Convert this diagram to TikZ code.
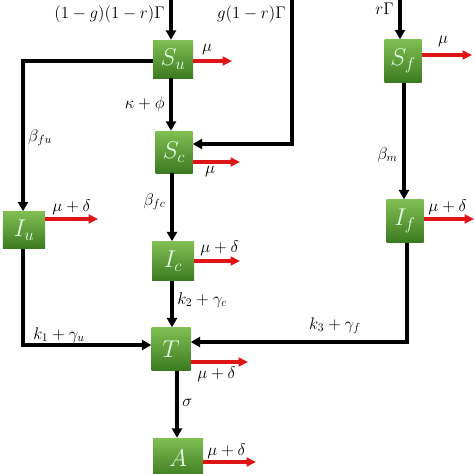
\documentclass[tikz,border=0pt]{standalone}
\usetikzlibrary{arrows.meta,calc}
\definecolor{gtop}{HTML}{80BF52}
\definecolor{gbot}{HTML}{3C7A22}
\definecolor{rarr}{HTML}{E01414}
\begin{document}
\begin{tikzpicture}[x=0.03cm,y=-0.03cm,
 box/.style={rectangle, inner sep=0pt, top color=gtop, bottom color=gbot, text=white!90!green, font=\fontsize{21}{23}\selectfont},
 flow/.style={line width=2.6pt, draw=black, -{Triangle[length=8pt,width=8.5pt]}},
 loss/.style={line width=2.6pt, draw=rarr, -{Triangle[length=8pt,width=7.5pt]}},
 lab/.style={font=\fontsize{14}{16}\selectfont, inner sep=1pt}]
\useasboundingbox (0,0) rectangle (474,474);
\fill[white] (0,0) rectangle (474,474);
% boxes
\node[box, minimum width=1.2cm, minimum height=1.14cm] (Su) at (173,59) {$S_u$};
\node[box, minimum width=1.11cm, minimum height=1.26cm] (Sc) at (174,152) {$S_c$};
\node[box, minimum width=1.11cm, minimum height=1.29cm] (Sf) at (403,61) {$S_f$};
\node[box, minimum width=1.11cm, minimum height=1.29cm] (If) at (405,221) {$I_f$};
\node[box, minimum width=1.26cm, minimum height=1.11cm] (Iu) at (24,230) {$I_u$};
\node[box, minimum width=1.26cm, minimum height=1.17cm] (Ic) at (173,261) {$I_c$};
\node[box, minimum width=1.17cm, minimum height=1.29cm] (T) at (171,349) {$T$};
\node[box, minimum width=1.5cm, minimum height=1.2cm] (A) at (178,458) {$A$};
% free ends
\coordinate (inSu) at (171,0);
\coordinate (inSc) at (292,0);
\coordinate (inSf) at (400,0);
\coordinate (cSc) at (292,144);
\coordinate (cSu) at (23,61);
\coordinate (cIu) at (23,345);
\coordinate (cIf) at (407,342);
% black flows
\draw[flow] (inSu) -- (inSu |- Su.north);
\draw[flow] (171,0 |- Su.south) -- (171,0 |- Sc.north);
\draw[flow] (cSu -| Su.west) -- (cSu) -- (cSu |- Iu.north);
\draw[flow] (inSc) -- (cSc) -- (cSc -| Sc.east);
\draw[flow] (inSf) -- (inSf |- Sf.north);
\draw[flow] (404,0 |- Sf.south) -- (404,0 |- If.north);
\draw[flow] (172,0 |- Sc.south) -- (172,0 |- Ic.north);
\draw[flow] (172,0 |- Ic.south) -- (172,0 |- T.north);
\draw[flow] (cIu |- Iu.south) -- (cIu) -- (cIu -| T.west);
\draw[flow] (cIf |- If.south) -- (cIf) -- (cIf -| T.east);
\draw[flow] (177,0 |- T.south) -- (177,0 |- A.north);
% labels of flows
\node[lab, anchor=east] (l1) at (166,14) {$(1-g)(1-r)\Gamma$};
\node[lab, anchor=east] (l2) at (287,14) {$g(1-r)\Gamma$};
\node[lab, anchor=east] (l3) at (395,9) {$r\Gamma$};
\node[lab, anchor=east] (l4) at (166,104) {$\kappa+\phi$};
\node[lab] (l5) at (40,138) {$\beta_{fu}$};
\node[lab, anchor=east] (l6) at (167,202) {$\beta_{fc}$};
\node[lab, anchor=east] (l7) at (399,155) {$\beta_m$};
\node[lab, anchor=west] (l8) at (32,335) {$k_1+\gamma_u$};
\node[lab, anchor=west] (l9) at (176,300) {$k_2+\gamma_c$};
\node[lab] (l10) at (335,326) {$k_3+\gamma_f$};
\node[lab, anchor=west] (l11) at (181,403) {$\sigma$};
% loss arrows
\coordinate (oSu) at (232,61);
\coordinate (oSc) at (240,162);
\coordinate (oSf) at (472,55);
\coordinate (oIf) at (474,219);
\coordinate (oIu) at (98,219);
\coordinate (oIc) at (240,261);
\coordinate (oT) at (248,362);
\coordinate (oA) at (256,462);
\draw[loss] (oSu -| Su.east) -- (oSu);
\draw[loss] (oSc -| Sc.east) -- (oSc);
\draw[loss] (oSf -| Sf.east) -- (oSf);
\draw[loss] (oIf -| If.east) -- (oIf);
\draw[loss] (oIu -| Iu.east) -- (oIu);
\draw[loss] (oIc -| Ic.east) -- (oIc);
\draw[loss] (oT -| T.east) -- (oT);
\draw[loss] (oA -| A.east) -- (oA);
\node[lab] (m1) at (207,50) {$\mu$};
\node[lab] (m2) at (210,172) {$\mu$};
\node[lab] (m3) at (443,42) {$\mu$};
\node[lab, anchor=west] (m4) at (427,207) {$\mu+\delta$};
\node[lab, anchor=west] (m5) at (51,207) {$\mu+\delta$};
\node[lab, anchor=west] (m6) at (199,248) {$\mu+\delta$};
\node[lab, anchor=west] (m7) at (196,374) {$\mu+\delta$};
\node[lab, anchor=west] (m8) at (206,451) {$\mu+\delta$};
\end{tikzpicture}
\end{document}
